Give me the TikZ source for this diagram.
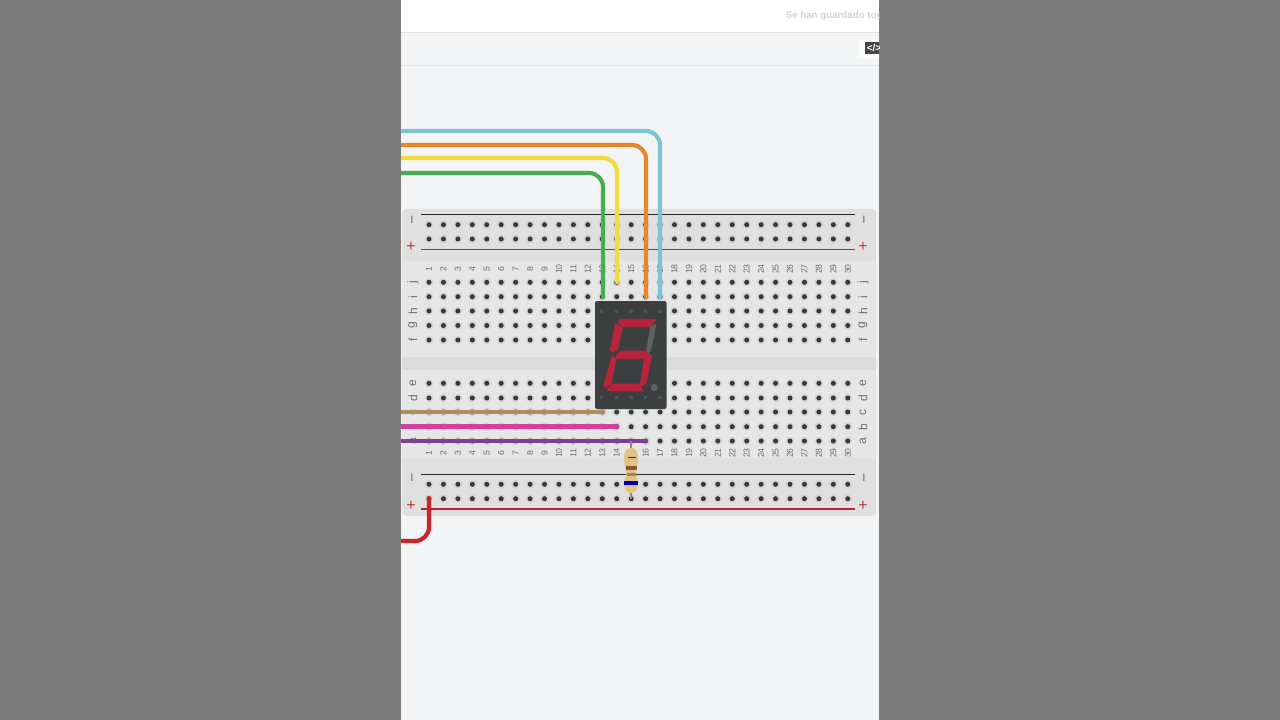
\documentclass[tikz,border=0pt]{standalone}
\usepackage{fontspec}
\setmainfont{Liberation Sans}
\definecolor{sidegray}{HTML}{7D7D7D}
\definecolor{pagebg}{HTML}{F3F4F6}
\definecolor{boardbg}{HTML}{E6E6E6}
\definecolor{railbg}{HTML}{E0E0E0}
\definecolor{gapbg}{HTML}{DCDCDC}
\definecolor{halo}{HTML}{D3D3D3}
\definecolor{hole}{HTML}{383838}
\definecolor{inklabel}{HTML}{6E6E6E}
\definecolor{railred}{HTML}{B5252B}
\definecolor{plusred}{HTML}{BE3A3C}
\definecolor{dispbg}{HTML}{3C3F3F}
\definecolor{segon}{HTML}{B9233C}
\definecolor{segoff}{HTML}{5F6160}
\definecolor{wcyan}{HTML}{7CC4CF}
\definecolor{worange}{HTML}{E8862A}
\definecolor{wyellow}{HTML}{F0DC3C}
\definecolor{wgreen}{HTML}{46AE50}
\definecolor{wbrown}{HTML}{B08D60}
\definecolor{wpink}{HTML}{D0409C}
\definecolor{wpurple}{HTML}{7B3F98}
\definecolor{wred}{HTML}{CC2529}
\definecolor{restan}{HTML}{E2C383}
\tikzset{
	wire/.style = {line width=3.1pt, rounded corners=10.5pt, line cap=round},
	railline/.style = {line width=1.1pt},
	numlabel/.style = {inner sep=0pt, rotate=90, text=inklabel, font=\fontsize{6.5}{7}\selectfont},
	rowlabel/.style = {inner sep=0pt, rotate=90, text=inklabel, font=\fontsize{9}{10}\selectfont},
	minuslabel/.style = {inner sep=0pt, rotate=90, text=black!65, font=\fontsize{10}{10}\selectfont},
	pluslabel/.style = {inner sep=0pt, text=plusred, font=\fontsize{12}{12}\selectfont},
	segment/.style = {fill=segon, draw=segon, line width=0.6pt, line join=round},
	segdark/.style = {fill=segoff, draw=segoff, line width=0.6pt, line join=round},
	pinmark/.style = {fill=white!10!dispbg, draw=none}
}
\newcommand{\holeat}[2]{\fill[halo] (#1,#2) circle (4.2); \fill[hole] (#1,#2) circle (2.5);}
\begin{document}
\begin{tikzpicture}[x=0.75pt,y=-0.75pt]
\useasboundingbox (0,0) rectangle (1280,720);
\fill[sidegray] (0,0) rectangle (1280,720);
\begin{scope}
\clip (401,0) rectangle (879,720);
\fill[pagebg] (401,0) rectangle (879,720);
\fill[white] (401,0) rectangle (879,32);
\draw[black!12, line width=0.6pt] (401,32.5) -- (879,32.5);
\draw[black!10, line width=0.6pt] (401,65) -- (879,65);
\node [inner sep=0pt, anchor=west, text=black!17, font=\fontsize{7.3}{9}\selectfont\bfseries] (saved) at (785.5,16.5) {Se han guardado todos};
\fill[white!60!pagebg] (858,40) rectangle (879,58);
\node [inner sep=1.5pt, anchor=west, fill=black!72!pagebg, text=white, font=\fontsize{7.5}{8}\selectfont\bfseries] (codeicon) at (864.5,48) {</>};
% board
\fill[railbg, rounded corners=3pt] (402,209) rectangle (876,516);
\fill[boardbg] (402,261) rectangle (876,458);
\fill[gapbg] (402,357) rectangle (876,370);
\draw[black!85, railline] (421,214.7) -- (855,214.7);
\draw[railred, railline] (421,249.5) -- (855,249.5);
\draw[black!85, railline] (421,474.3) -- (855,474.3);
\draw[railred, railline] (421,509) -- (855,509);
% holes
\foreach \col in {0,...,29} {
	\pgfmathsetmacro{\xcol}{429+14.44*\col}
	\foreach \row in {224.7,239,282.3,296.7,311,325.5,340,383.3,398,412,426.7,441,484.3,498.7} {
		\holeat{\xcol}{\row}
	}
	\pgfmathtruncatemacro{\num}{\col+1}
	\node [numlabel] (numtop\num) at (\xcol,269) {\num};
	\node [numlabel] (numbot\num) at (\xcol,453) {\num};
}
% row letters
\foreach \rowname/\ypos in {j/282.3,i/296.7,h/311,g/325.5,f/340,e/383.3,d/398,c/412,b/426.7,a/441} {
	\node [rowlabel] (left\rowname) at (413,\ypos) {\rowname};
	\node [rowlabel] (right\rowname) at (863,\ypos) {\rowname};
}
\node [minuslabel] (minus_a) at (413.5,220) {–};
\node [minuslabel] (minus_b) at (865.5,220) {–};
\node [minuslabel] (minus_c) at (413.5,478) {–};
\node [minuslabel] (minus_d) at (865.5,478) {–};
\node [pluslabel] (plus_a) at (411,246.5) {+};
\node [pluslabel] (plus_b) at (863,246.5) {+};
\node [pluslabel] (plus_c) at (411,505.5) {+};
\node [pluslabel] (plus_d) at (863,505.5) {+};
% wire ends
\coordinate (cyan_a) at (395,131);
\coordinate (cyan_b) at (660,297);
\coordinate (orange_a) at (395,145);
\coordinate (orange_b) at (646,297);
\coordinate (yellow_a) at (395,158);
\coordinate (yellow_b) at (617,282);
\coordinate (green_a) at (395,173);
\coordinate (green_b) at (603,297);
\coordinate (brown_a) at (395,412);
\coordinate (brown_b) at (603,412);
\coordinate (pink_a) at (395,426.5);
\coordinate (pink_b) at (617,426.5);
\coordinate (purple_a) at (395,441);
\coordinate (purple_b) at (646,441);
\coordinate (red_a) at (429,498);
\coordinate (red_b) at (395,541);
% display
\fill[dispbg, rounded corners=1.5pt] (595,301) rectangle (666.5,409);
\begin{scope}[shift={(585,280)}, x=0.25pt, y=-0.25pt]
	\foreach \xpin in {50,94,138,182,225} {
		\fill[pinmark] (\xpin-5,89) rectangle (\xpin+5,99);
		\fill[pinmark] (\xpin-5,347) rectangle (\xpin+5,357);
	}
	\fill[segment] (100,125) -- (107,118) -- (213,118) -- (195,139) -- (113,139) -- cycle;
	\fill[segment] (92,130) -- (112,142) -- (98,208) -- (82,216) -- (76,210) -- cycle;
	\fill[segdark] (213,132) -- (197,212) -- (183,222) -- (197,140) -- cycle;
	\fill[segment] (95,224) -- (110,213) -- (180,213) -- (195,224) -- (180,236) -- (92,236) -- cycle;
	\fill[segment] (82,226) -- (92,238) -- (78,312) -- (60,322) -- (57,315) -- cycle;
	\fill[segment] (200,226) -- (183,310) -- (165,320) -- (178,238) -- cycle;
	\fill[segment] (66,327) -- (85,312) -- (160,312) -- (175,333) -- (72,333) -- cycle;
	\fill[segoff] (208,323) circle (11);
\end{scope}
% wires
\draw[wire, wcyan] (cyan_a) -| (cyan_b);
\draw[wire, worange] (orange_a) -| (orange_b);
\draw[wire, wyellow] (yellow_a) -| (yellow_b);
\draw[wire, wgreen] (green_a) -| (green_b);
\draw[wire, wbrown] (brown_a) -- (brown_b);
\draw[wire, wpink] (pink_a) -- (pink_b);
\draw[wire, wpurple] (purple_a) -- (purple_b);
\draw[wire, wred] (red_a) |- (red_b);
% resistor
\draw[black!45, line width=1.5pt] (631,441) -- (631,499);
\fill[restan] (631,448) .. controls (636,448) and (638,452) .. (638,457) .. controls (638,463) and (636,468) .. (636,474) .. controls (636,478) and (638,481) .. (638,484) .. controls (638,489) and (635,493) .. (631,493) .. controls (627,493) and (624,489) .. (624,484) .. controls (624,481) and (626,478) .. (626,474) .. controls (626,468) and (624,463) .. (624,457) .. controls (624,452) and (627,448) .. (631,448) -- cycle;
\fill[black!75!restan] (628,456.5) rectangle (636,457.5);
\fill[brown!70!black] (625.5,465.5) rectangle (636.5,470);
\fill[black!30!restan] (626.5,473) rectangle (635.5,476);
\fill[blue!75!black] (624,480.8) rectangle (637.5,484.8);
\end{scope}
\end{tikzpicture}
\end{document}
